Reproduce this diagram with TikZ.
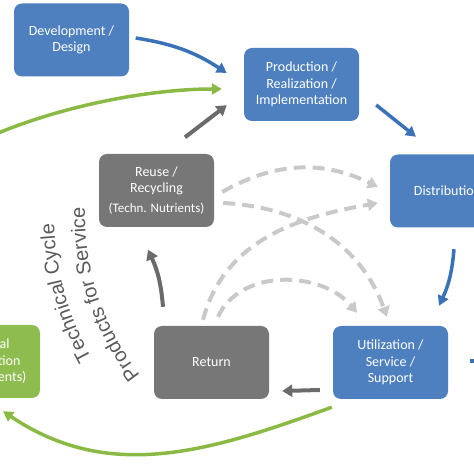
\documentclass[tikz,border=0pt]{standalone}
\usepackage{fontspec}
\usetikzlibrary{arrows.meta,decorations.text}
\newfontfamily\boxfont{Carlito}
\newfontfamily\arcfont{Liberation Sans}
\definecolor{boxblue}{HTML}{4E80C0}
\definecolor{boxgray}{HTML}{777777}
\definecolor{boxgreen}{HTML}{8FBC4F}
\definecolor{arrowblue}{HTML}{3A72B8}
\definecolor{arrowgray}{HTML}{6B6B6B}
\definecolor{arrowgreen}{HTML}{8BBA44}
\definecolor{dashgray}{HTML}{C9C9C9}
\definecolor{arcgray}{HTML}{5A5A5A}

\tikzset{
	box/.style={rounded corners=8pt, minimum width=115pt, minimum height=73pt, inner sep=0pt,
		align=center, text=white, font=\boxfont\fontsize{14}{16.5}\selectfont},
	bluebox/.style={box, fill=boxblue},
	graybox/.style={box, fill=boxgray},
	greenbox/.style={box, fill=boxgreen},
	bluearrow/.style={line width=3.5pt, draw=arrowblue, -{Triangle[length=10pt,width=11pt]}},
	grayarrow/.style={line width=4pt, draw=arrowgray, -{Triangle[length=10pt,width=12pt]}},
	greenarrow/.style={line width=3.5pt, draw=arrowgreen, -{Triangle[length=10pt,width=11pt]}},
	dasharrow/.style={line width=4pt, draw=dashgray, dash pattern=on 12pt off 7pt, -{Triangle[length=10pt,width=12pt]}},
	arctext/.style={decorate, decoration={text along path, text color=arcgray, text align=left, text={|\arcfont\fontsize{20}{24}\selectfont|#1}}}
}

\begin{document}
\begin{tikzpicture}[x=1pt, y=1pt]
	\useasboundingbox (0,0) rectangle (474,474);
	\clip (0,0) rectangle (474,474);
	
	\node[bluebox] (dev) at (71.5,434) {Development /\\Design};
	\node[bluebox] (prod) at (301.5,389.5) {Production /\\Realization /\\Implementation};
	\node[bluebox] (dist) at (447.5,283) {Distribution};
	\node[bluebox] (util) at (390.5,111.5) {Utilization /\\Service /\\Support};
	\node[graybox] (ret) at (211.5,111.5) {Return};
	\node[graybox] (reuse) at (156.5,283.5) {Reuse /\\Recycling\\[3pt]{\fontsize{13}{15}\selectfont(Techn. Nutrients)}};
	\node[greenbox] (bio) at (-17.5,112.5) {Biological\\Regeneration\\(Bio. Nutrients)};
	
	% dashed returns of the technical cycle
	\draw[dasharrow] ([xshift=8pt,yshift=-1.5pt]reuse.east) to[bend left=28] ([xshift=-12pt,yshift=4pt]dist.west);
	\draw[dasharrow] ([xshift=9pt,yshift=-12.5pt]reuse.east) to[out=-3,in=110] ([xshift=-3.5pt,yshift=9pt]util.north);
	\draw[dasharrow] ([xshift=-8.5pt,yshift=6pt]ret.north) to[out=75,in=190] ([xshift=-12pt,yshift=-12pt]dist.west);
	\draw[dasharrow] ([xshift=6.5pt,yshift=9pt]ret.north) to[out=65,in=130] ([xshift=-33.5pt,yshift=13pt]util.north);
	
	\draw[bluearrow] ([xshift=6.5pt,yshift=2pt]dev.east) to[bend left=12] ([xshift=-17pt,yshift=11.5pt]prod.west);
	\draw[bluearrow] ([xshift=17pt,yshift=-20.5pt]prod.east) -- ([xshift=-31.5pt,yshift=17.5pt]dist.north);
	\draw[bluearrow] ([xshift=6.5pt,yshift=-21.5pt]dist.south) to[bend left=10] ([xshift=48.5pt,yshift=20pt]util.north);
	\draw[bluearrow] ([xshift=22pt,yshift=1.5pt]util.east) -- ([xshift=70pt,yshift=1.5pt]util.east);
	
	\draw[grayarrow] ([xshift=-13pt,yshift=-27.5pt]util.west) -- ([xshift=13pt,yshift=-28.5pt]ret.east);
	\draw[grayarrow] ([xshift=-48.5pt,yshift=19pt]ret.north) to[bend right=10] ([xshift=-8.5pt,yshift=-22.5pt]reuse.south);
	\draw[grayarrow] ([xshift=28.5pt,yshift=16.5pt]reuse.north) -- ([xshift=-17pt,yshift=16pt]prod.south west);
	
	\coordinate (greenin) at (-20,333);
	\draw[greenarrow] (greenin) to[out=25,in=180,looseness=0.8] ([xshift=-22pt,yshift=-4.5pt]prod.west);
	\draw[greenarrow] ([xshift=-1pt,yshift=-8pt]util.south west) to[out=200,in=-34] ([xshift=20.5pt,yshift=-13pt]bio.south);
	
	% curved labels
	\coordinate (hub) at (345,259);
	\path[arctext=Technical Cycle] (hub) ++(209.5:291) arc[start angle=209.5, end angle=170, radius=291];
	\path[arctext=Products for Service] (hub) ++(218:260) arc[start angle=218, end angle=165, radius=260];
\end{tikzpicture}
\end{document}
